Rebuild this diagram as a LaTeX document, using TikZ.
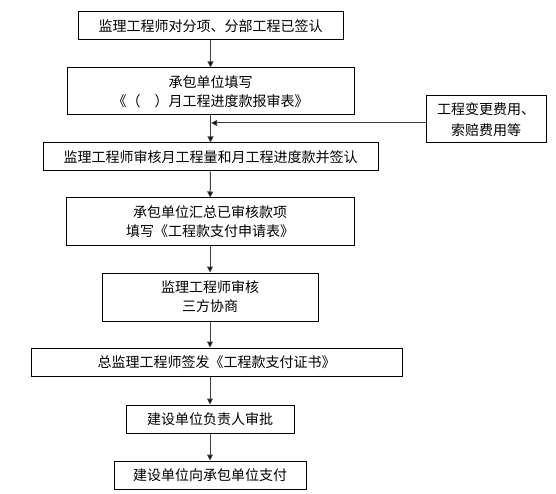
\documentclass[tikz,border=0pt]{standalone}
\usepackage{fontspec}
\setmainfont{Noto Sans CJK SC}
\usetikzlibrary{arrows.meta}

\begin{document}
\begin{tikzpicture}
[
	x	= 1pt,	% one unit is one pixel of the sheet
	y	= -1pt,	% rows are counted downwards
	box/.style	= {shape = rectangle, draw = black, line width = 1pt, inner sep = 0pt, align = center, font = \fontsize{14}{19}\selectfont},
	flow/.style	= {line width = 1pt, draw = black!75, -{Triangle[width = 6pt, length = 6pt, fill = black]}},
]

\useasboundingbox [fill = white] (0,0) rectangle (556,494);

{
	% nodes declaration
	\node (nBoxOne) [box, minimum width = 265, minimum height = 28] at (210.5,26) {监理工程师对分项、分部工程已签认};
	\node (nBoxTwo) [box, minimum width = 287, minimum height = 47] at (210.5,91.5) {承包单位填写\\《（　）月工程进度款报审表》};
	   \node (nSide) [box, minimum width = 120, minimum height = 47, font = \fontsize{14}{21}\selectfont] at (486,119.5) {工程变更费用、\\索赔费用等};
	\node (nBoxThree) [box, minimum width = 335, minimum height = 28] at (210.5,157) {监理工程师审核月工程量和月工程进度款并签认};
	\node (nBoxFour) [box, minimum width = 288, minimum height = 47] at (210,221.5) {承包单位汇总已审核款项\\填写《工程款支付申请表》};
	\node (nBoxFive) [box, minimum width = 216, minimum height = 48] at (210,297) {监理工程师审核\\三方协商};
	\node (nBoxSix) [box, minimum width = 371, minimum height = 28] at (216.5,362) {总监理工程师签发《工程款支付证书》};
	\node (nBoxSeven) [box, minimum width = 168, minimum height = 28] at (210,419) {建设单位负责人审批};
	\node (nBoxEight) [box, minimum width = 192, minimum height = 28] at (210,475) {建设单位向承包单位支付};

	\coordinate (nJoin) at (211,123);

	% edges declaration
	\draw [flow] (nBoxOne) -- (nBoxTwo);
	\draw [flow] (nBoxTwo) -- (nBoxThree);
	\draw [flow] (nSide.west |- nJoin) -- (nJoin);
	\draw [flow] (nBoxThree) -- (nBoxFour);
	\draw [flow] (nBoxFour) -- (nBoxFive);
	\draw [flow] (nBoxFive.south) -- (nBoxFive.south |- nBoxSix.north);
	\draw [flow] (nBoxFive.south |- nBoxSix.south) -- (nBoxSeven.north);
	\draw [flow] (nBoxSeven) -- (nBoxEight);
}

\end{tikzpicture}
\end{document}
